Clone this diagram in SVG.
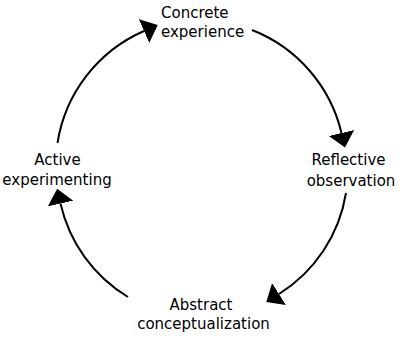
<svg xmlns="http://www.w3.org/2000/svg" width="400" height="338" viewBox="0 0 400 338">
<style>
text{font-family:"DejaVu Sans","Verdana",sans-serif;font-size:15px;fill:#000}
.c{fill:none;stroke:#000;stroke-width:2}
</style>
<defs>
<marker id="ah" markerUnits="userSpaceOnUse" markerWidth="30" markerHeight="30" refX="0" refY="13" orient="auto" viewBox="0 0 30 30">
<path d="M0,0 L15,13 L0,26 Z" fill="#000"/>
</marker>
</defs>
<rect width="400" height="338" fill="#fff"/>
<g id="connectors">
<path class="c" d="M57.5,143 A147,147 0 0 1 144,31" marker-end="url(#ah)"/>
<path class="c" d="M252,30 A147,147 0 0 1 341.5,133" marker-end="url(#ah)"/>
<path class="c" d="M346,193 A147,147 0 0 1 279,294" marker-end="url(#ah)"/>
<path class="c" d="M128,297 A147,147 0 0 1 60.5,203.5" marker-end="url(#ah)"/>
</g>
<g id="concrete">
<text x="161" y="17.5">Concrete</text>
<text x="161" y="37">experience</text>
</g>
<g id="reflective">
<text x="348.5" y="165" text-anchor="middle">Reflective</text>
<text x="351" y="186" text-anchor="middle">observation</text>
</g>
<g id="abstract">
<text x="201" y="310" text-anchor="middle">Abstract</text>
<text x="203.5" y="329" text-anchor="middle">conceptualization</text>
</g>
<g id="active">
<text x="57.5" y="165" text-anchor="middle">Active</text>
<text x="57" y="185" text-anchor="middle">experimenting</text>
</g>
</svg>
